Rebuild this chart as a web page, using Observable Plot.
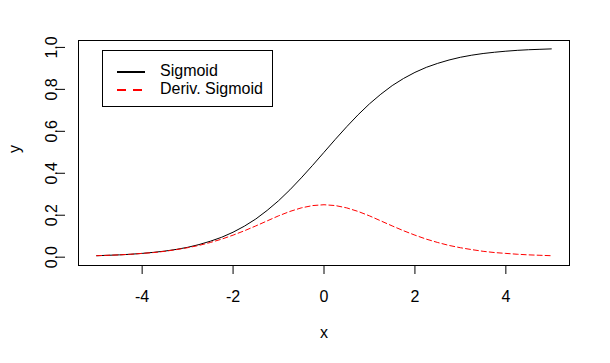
<!DOCTYPE html>
<html>
<head>
<meta charset="utf-8">
<script src="https://cdn.jsdelivr.net/npm/d3@7"></script>
<script src="https://cdn.jsdelivr.net/npm/@observablehq/plot@0.6"></script>
<style>
  html, body { margin: 0; padding: 0; background: #fff; }
  #wrap { position: relative; width: 610px; height: 363px; font-family: "Liberation Sans", Arial, sans-serif; }
  #legend { position: absolute; left: 102px; top: 50px; width: 171px; height: 57px; border: 1px solid #000; background: #fff; box-sizing: border-box; }
  #legend .txt { position: absolute; left: 57px; font-size: 16px; color: #000; white-space: nowrap; }
</style>
</head>
<body>
<div id="wrap"></div>
<script>
// x values sampled along the curves
const xs = [-5, -4.75, -4.5, -4.25, -4, -3.75, -3.5, -3.25, -3, -2.75, -2.5, -2.25, -2, -1.75, -1.5, -1.25, -1, -0.75, -0.5, -0.25,
  0, 0.25, 0.5, 0.75, 1, 1.25, 1.5, 1.75, 2, 2.25, 2.5, 2.75, 3, 3.25, 3.5, 3.75, 4, 4.25, 4.5, 4.75, 5];
// Sigmoid values
const sigmoid = [0.007, 0.009, 0.011, 0.014, 0.018, 0.023, 0.029, 0.037, 0.047, 0.060, 0.076, 0.095, 0.119, 0.148, 0.182, 0.223, 0.269, 0.321, 0.378, 0.438,
  0.500, 0.562, 0.622, 0.679, 0.731, 0.777, 0.818, 0.852, 0.881, 0.905, 0.924, 0.940, 0.953, 0.963, 0.971, 0.977, 0.982, 0.986, 0.989, 0.991, 0.993];
// Derivative of sigmoid values
const derivSigmoid = [0.007, 0.009, 0.011, 0.014, 0.018, 0.022, 0.028, 0.036, 0.045, 0.056, 0.070, 0.086, 0.105, 0.126, 0.149, 0.173, 0.197, 0.218, 0.235, 0.246,
  0.250, 0.246, 0.235, 0.218, 0.197, 0.173, 0.149, 0.126, 0.105, 0.086, 0.070, 0.056, 0.045, 0.036, 0.028, 0.022, 0.018, 0.014, 0.011, 0.009, 0.007];
const xTicks = [-4, -2, 0, 2, 4];
const yTicks = [0, 0.2, 0.4, 0.6, 0.8, 1.0];
const seriesNames = ["Sigmoid", "Deriv. Sigmoid"];

const rows = xs.map((x, i) => ({x, s: sigmoid[i], d: derivSigmoid[i]}));

const chart = Plot.plot({
  width: 610,
  height: 363,
  marginLeft: 78,
  marginRight: 41,
  marginTop: 40,
  marginBottom: 98,
  style: { fontFamily: "Liberation Sans, Arial, sans-serif", fontSize: "16px", color: "#000", background: "#fff" },
  x: { domain: [-5.4, 5.4], ticks: xTicks },
  y: { domain: [-0.0397, 1.033], ticks: yTicks },
  marks: [
    Plot.frame({ stroke: "#000", strokeWidth: 1 }),
    Plot.axisX({ ticks: xTicks, tickSize: 9, tickPadding: 16, tickFormat: d => d < 0 ? "-" + Math.abs(d) : String(d), label: null, fontSize: 16 }),
    Plot.axisY({ ticks: yTicks, tickSize: 9, tickPadding: 0, tickFormat: d3.format(".1f"), tickRotate: -90, label: null, fontSize: 16, textAnchor: "middle", dx: -13 }),
    Plot.text(["x"], { frameAnchor: "bottom", dy: 72, fontSize: 16 }),
    Plot.text(["y"], { frameAnchor: "left", dx: -64, rotate: -90, fontSize: 16 }),
    Plot.line(rows, { x: "x", y: "s", stroke: "#000", strokeWidth: 1 }),
    Plot.line(rows, { x: "x", y: "d", stroke: "#ff0000", strokeWidth: 1, strokeDasharray: "5,3" })
  ]
});

const wrap = document.getElementById("wrap");
wrap.appendChild(chart);

const legend = document.createElement("div");
legend.id = "legend";
legend.innerHTML = `
  <svg width="169" height="55" style="position:absolute;left:0;top:0">
    <line x1="14" x2="42" y1="21" y2="21" stroke="#000" stroke-width="2"/>
    <line x1="14" x2="42" y1="39" y2="39" stroke="#ff0000" stroke-width="2" stroke-dasharray="9,7"/>
  </svg>
  <div class="txt" style="top:11px">${seriesNames[0]}</div>
  <div class="txt" style="top:29px">${seriesNames[1]}</div>`;
wrap.appendChild(legend);
</script>
</body>
</html>
